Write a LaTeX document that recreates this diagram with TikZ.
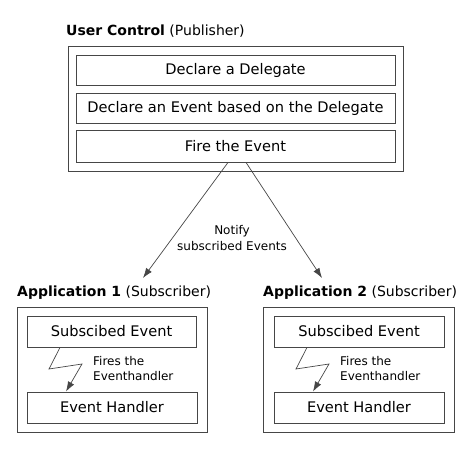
\documentclass[tikz,border=0pt]{standalone}
\usepackage{fontspec}
\setmainfont{DejaVu Sans}
\usetikzlibrary{arrows.meta}
\definecolor{linegray}{RGB}{70,70,70}
\tikzset{
  box/.style={draw=linegray, line width=0.9pt, inner sep=0pt, minimum height=31pt, font=\fontsize{14.6}{16}\selectfont},
  frame/.style={draw=linegray, line width=0.9pt, inner sep=0pt, minimum height=125pt},
  title/.style={anchor=west, inner sep=0pt, font=\fontsize{14}{16}\selectfont},
  note/.style={inner sep=0pt, font=\fontsize{12}{15.5}\selectfont},
  link/.style={draw=linegray, line width=0.7pt, -{Latex[length=10pt,width=7pt]}}
}
\begin{document}
\begin{tikzpicture}[x=1pt,y=-1pt]
  \useasboundingbox (0,0) rectangle (474,457);
  % publisher
  \node[title] (pubtitle) at (66,31) {\textbf{User Control} (Publisher)};
  \node[frame, minimum width=335pt] (publisher) at (235.5,108.5) {};
  \node[box, minimum width=319pt, minimum height=30pt] (delegate) at (235.5,70) {Declare a Delegate};
  \node[box, minimum width=319pt, minimum height=30pt] (event) at (235.5,108) {Declare an Event based on the Delegate};
  \node[box, minimum width=319pt, minimum height=32pt] (fire) at (235.5,146) {Fire the Event};
  % subscribers
  \node[title] (apptitle1) at (17,293) {\textbf{Application 1} (Subscriber)};
  \node[frame, minimum width=190pt] (app1) at (112,369.5) {};
  \node[box, minimum width=169pt] (subscribed1) at (111.5,331.5) {Subscibed Event};
  \node[box, minimum width=170pt] (handler1) at (112,407.5) {Event Handler};
  \node[title] (apptitle2) at (263,293) {\textbf{Application 2} (Subscriber)};
  \node[frame, minimum width=191pt] (app2) at (358.5,369.5) {};
  \node[box, minimum width=170pt] (subscribed2) at (359,331.5) {Subscibed Event};
  \node[box, minimum width=170pt] (handler2) at (359,407.5) {Event Handler};
  % notify arrows
  \coordinate (tip1) at (143,278);
  \coordinate (tip2) at (322,278);
  \draw[link] (fire.south -| 228,0) -- (tip1);
  \draw[link] (fire.south -| 246,0) -- (tip2);
  \node[note, align=center] (notify) at (232,238) {Notify\\subscribed Events};
  % fires arrows
  \draw[link] (subscribed1.south -| 60,0) -- (49,369) -- (82,364) -- (handler1.north -| 66,0);
  \draw[link] (subscribed2.south -| 307,0) -- (296,369) -- (329,364) -- (handler2.north -| 313,0);
  \node[note, align=left, anchor=west] (fires1) at (93,368.5) {Fires the\\Eventhandler};
  \node[note, align=left, anchor=west] (fires2) at (340,368.5) {Fires the\\Eventhandler};
\end{tikzpicture}
\end{document}
